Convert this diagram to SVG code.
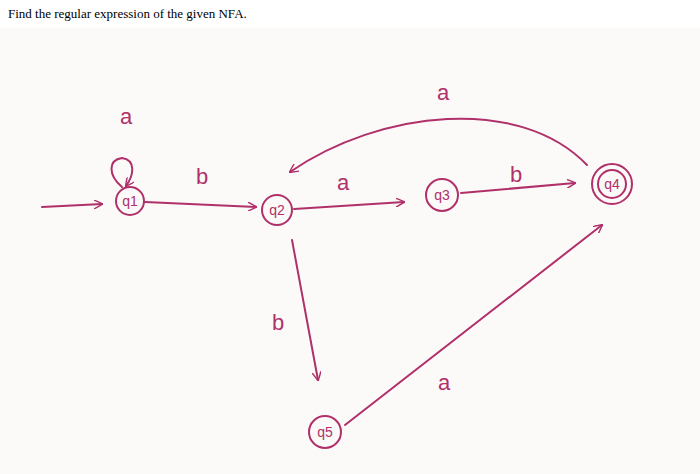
<svg xmlns="http://www.w3.org/2000/svg" width="700" height="474" viewBox="0 0 700 474">
<defs>
<marker id="ah" viewBox="0 0 10 10" refX="9" refY="5" markerWidth="9" markerHeight="9" orient="auto" markerUnits="userSpaceOnUse"><path d="M0,0 L10,5 L0,10" fill="none" stroke="#b0306a" stroke-width="1.6"/></marker>
</defs>
<style>
.e{fill:none;stroke:#b0306a;stroke-width:2;stroke-linecap:round}
.n{fill:none;stroke:#b0306a;stroke-width:2}
.t{font-family:"Liberation Sans",sans-serif;font-size:14px;fill:#b0306a}
.l{font-family:"Liberation Sans",sans-serif;font-size:22px;fill:#b0306a}
</style>
<rect width="700" height="474" fill="#ffffff"/>
<rect x="0" y="28" width="700" height="446" fill="#fbfaf8"/>
<text x="8" y="18" font-family="Liberation Serif,serif" font-size="13" fill="#000">Find the regular expression of the given NFA.</text>
<g id="connectors">
<path class="e" d="M42,207 L102,204" marker-end="url(#ah)"/>
<path class="e" d="M122,187 C108,175 108,160 122,158 C136,160 134,175 126,186" marker-end="url(#ah)"/>
<path class="e" d="M145,202 L256,207" marker-end="url(#ah)"/>
<path class="e" d="M294,209 L404,202" marker-end="url(#ah)"/>
<path class="e" d="M461,193 L575,183" marker-end="url(#ah)"/>
<path class="e" d="M587,165 C520,95 380,110 290,172" marker-end="url(#ah)"/>
<path class="e" d="M292,240 L318,380" marker-end="url(#ah)"/>
<path class="e" d="M345,425 L602,225" marker-end="url(#ah)"/>
<text class="l" x="120" y="124">a</text>
<text class="l" x="196" y="184">b</text>
<text class="l" x="337" y="190">a</text>
<text class="l" x="437" y="100">a</text>
<text class="l" x="510" y="182">b</text>
<text class="l" x="272" y="330">b</text>
<text class="l" x="438" y="390">a</text>
</g>
<g id="q1"><circle class="n" cx="130" cy="201" r="14"/><text class="t" x="130" y="206" text-anchor="middle">q1</text></g>
<g id="q2"><circle class="n" cx="277" cy="210" r="15"/><text class="t" x="277" y="215" text-anchor="middle">q2</text></g>
<g id="q3"><circle class="n" cx="442" cy="195" r="16"/><text class="t" x="442" y="200" text-anchor="middle">q3</text></g>
<g id="q4"><circle class="n" cx="612" cy="184" r="20"/><circle class="n" cx="612" cy="184" r="14"/><text class="t" x="612" y="189" text-anchor="middle">q4</text></g>
<g id="q5"><circle class="n" cx="325" cy="432" r="16"/><text class="t" x="325" y="437" text-anchor="middle">q5</text></g>
</svg>
